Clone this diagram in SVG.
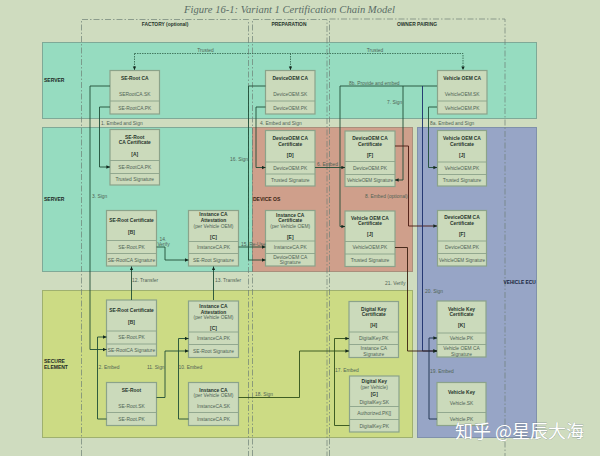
<svg xmlns="http://www.w3.org/2000/svg" width="600" height="456" viewBox="0 0 600 456">
<style>
text{font-family:"Liberation Sans",Arial,sans-serif;font-size:4.900px;fill:#4f6355}
.t{text-anchor:middle}
.b{font-weight:bold;fill:#26342b}
.k{font-weight:bold;fill:#1e2a26;font-size:5px}
.n rect{fill:#cbdabb;stroke:#8ba38a;stroke-width:1.2}
.n line{stroke:#8ba38a;stroke-width:.9}
.c{fill:none;stroke:#1f4d37;stroke-width:.9;marker-end:url(#a)}
.d{fill:none;stroke:#6d8075;stroke-width:.7;stroke-dasharray:6 2 1.500 2}
</style>
<defs>
<marker id="a" markerUnits="userSpaceOnUse" markerWidth="4" markerHeight="4" refX="3.600" refY="1.700" orient="auto"><path d="M0 0L3.600 1.700L0 3.400Z" fill="#14291f"/></marker>
</defs>
<rect width="600" height="456" fill="#cfdcbf"/>
<text x="289.500" y="13" class="t" style="font-family:'Liberation Serif',serif;font-style:italic;font-size:10.600px;fill:#5a6c66">Figure 16-1: Variant 1 Certification Chain Model</text>
<g id="panels" stroke-width="1">
<rect x="42.500" y="42.500" width="494" height="76" fill="#96dcc0" stroke="#7fa997"/>
<rect x="42.500" y="127.500" width="210" height="144" fill="#96dcc0" stroke="#7fa997"/>
<rect x="252.500" y="127.500" width="160" height="144" fill="#cf9f8b" stroke="#a98f7c"/>
<rect x="417.500" y="127.500" width="119" height="310" fill="#97a5c6" stroke="#8091ab"/>
<rect x="42.500" y="290.500" width="370" height="147" fill="#ccdb84" stroke="#9fb06f"/>
</g>
<g id="phases">
<path class="d" d="M81.500 456V19.500H248.500V456"/>
<path class="d" d="M252.500 456V19.500H327V456"/>
<path class="d" d="M329.500 456V19H505V456"/>
<text x="165" y="26" class="t b">FACTORY (optional)</text>
<text x="289" y="26" class="t b">PREPARATION</text>
<text x="417" y="25.500" class="t b">OWNER PAIRING</text>
<text x="44" y="82" class="k">SERVER</text>
<text x="44" y="201" class="k">SERVER</text>
<text x="253" y="201" style="fill:#3a1f14" class="k">DEVICE OS</text>
<text x="503.500" y="284" style="fill:#15233b;font-size:4.800px" class="k">VEHICLE ECU</text>
<text x="44" y="363" class="k">SECURE</text>
<text x="44" y="369" class="k">ELEMENT</text>
</g>
<g id="node-se-root-ca" class="n"><rect x="110" y="70.500" width="49.500" height="43.500"/><line x1="110" y1="101" x2="159.500" y2="101"/>
<text x="134.750" y="80" class="t b">SE-Root CA</text><text x="134.750" y="96" class="t">SERootCA.SK</text><text x="134.750" y="109.500" class="t">SE-RootCA.PK</text></g>
<g id="node-se-root-ca-cert" class="n"><rect x="110" y="129.500" width="49.500" height="55.500"/><line x1="110" y1="160.500" x2="159.500" y2="160.500"/><line x1="110" y1="173.500" x2="159.500" y2="173.500"/>
<text x="134.750" y="138.500" class="t b">SE-Root</text><text x="134.750" y="144" class="t b">CA Certificate</text><text x="134.750" y="155.500" class="t b">[A]</text><text x="134.750" y="168.500" class="t">SE-RootCA.PK</text><text x="134.750" y="181" class="t">Trusted Signature</text></g>
<g id="node-se-root-cert-server" class="n"><rect x="106.500" y="210.500" width="50" height="55.500"/><line x1="106.500" y1="240.500" x2="156.500" y2="240.500"/><line x1="106.500" y1="253.500" x2="156.500" y2="253.500"/>
<text x="131.500" y="222" class="t b">SE-Root Certificate</text><text x="131.500" y="233.500" class="t b">[B]</text><text x="131.500" y="248.500" class="t">SE-Root.PK</text><text x="131.500" y="261.500" class="t">SE-RootCA Signature</text></g>
<g id="node-instance-att-server" class="n"><rect x="188.500" y="210.500" width="50" height="55.500"/><line x1="188.500" y1="241.500" x2="238.500" y2="241.500"/><line x1="188.500" y1="253.500" x2="238.500" y2="253.500"/>
<text x="213.500" y="216" class="t b">Instance CA</text><text x="213.500" y="222" class="t b">Attestation</text><text x="213.500" y="228" class="t">(per Vehicle OEM)</text><text x="213.500" y="239" class="t b">[C]</text><text x="213.500" y="249" class="t">InstanceCA.PK</text><text x="213.500" y="261.500" class="t">SE-Root Signature</text></g>
<g id="node-deviceoem-ca" class="n"><rect x="265.500" y="70.500" width="49.500" height="43.500"/><line x1="265.500" y1="101" x2="315" y2="101"/>
<text x="290.250" y="80" class="t b">DeviceOEM CA</text><text x="290.250" y="96" class="t">DeviceOEM.SK</text><text x="290.250" y="109.500" class="t">DeviceOEM.PK</text></g>
<g id="node-deviceoem-cert-d" class="n"><rect x="265.500" y="130.500" width="49.500" height="55.500"/><line x1="265.500" y1="162" x2="315" y2="162"/><line x1="265.500" y1="174" x2="315" y2="174"/>
<text x="290.250" y="139.500" class="t b">DeviceOEM CA</text><text x="290.250" y="145.500" class="t b">Certificate</text><text x="290.250" y="156.500" class="t b">[D]</text><text x="290.250" y="169.500" class="t">DeviceOEM.PK</text><text x="290.250" y="181.500" class="t">Trusted Signature</text></g>
<g id="node-instance-cert-e" class="n"><rect x="265.500" y="210.500" width="49.500" height="55.500"/><line x1="265.500" y1="241" x2="315" y2="241"/><line x1="265.500" y1="253.500" x2="315" y2="253.500"/>
<text x="290.250" y="216.500" class="t b">Instance CA</text><text x="290.250" y="222" class="t b">Certificate</text><text x="290.250" y="228" class="t">(per Vehicle OEM)</text><text x="290.250" y="239" class="t b">[E]</text><text x="290.250" y="249" class="t">InstanceCA.PK</text><text x="290.250" y="258.500" class="t">DeviceOEM CA</text><text x="290.250" y="264" class="t">Signature</text></g>
<g id="node-deviceoem-cert-f" class="n"><rect x="345" y="131" width="50" height="55.500"/><line x1="345" y1="161.500" x2="395" y2="161.500"/><line x1="345" y1="174.500" x2="395" y2="174.500"/>
<text x="370" y="139.500" class="t b">DeviceOEM CA</text><text x="370" y="145.500" class="t b">Certificate</text><text x="370" y="156.500" class="t b">[F]</text><text x="370" y="169.500" class="t">DeviceOEM.PK</text><text x="370" y="182" class="t" style="font-size:4.600px">VehicleOEM Signature</text></g>
<g id="node-vehicleoem-cert-j-os" class="n"><rect x="345" y="211" width="50" height="55.500"/><line x1="345" y1="241.500" x2="395" y2="241.500"/><line x1="345" y1="254" x2="395" y2="254"/>
<text x="370" y="219.500" class="t b">Vehicle OEM CA</text><text x="370" y="225" class="t b">Certificate</text><text x="370" y="236" class="t b">[J]</text><text x="370" y="249" class="t">VehicleOEM.PK</text><text x="370" y="262" class="t">Trusted Signature</text></g>
<g id="node-vehicleoem-ca" class="n"><rect x="437.500" y="70.500" width="49.500" height="43.500"/><line x1="437.500" y1="101" x2="487" y2="101"/>
<text x="462.250" y="80" class="t b">Vehicle OEM CA</text><text x="462.250" y="96" class="t">VehicleOEM.SK</text><text x="462.250" y="109.500" class="t">VehicleOEM.PK</text></g>
<g id="node-vehicleoem-cert-j" class="n"><rect x="437.500" y="130.500" width="49" height="55.500"/><line x1="437.500" y1="162" x2="486.500" y2="162"/><line x1="437.500" y1="174.500" x2="486.500" y2="174.500"/>
<text x="462" y="139.500" class="t b">Vehicle OEM CA</text><text x="462" y="145.500" class="t b">Certificate</text><text x="462" y="156.500" class="t b">[J]</text><text x="462" y="169.500" class="t">VehicleOEM.PK</text><text x="462" y="182" class="t">Trusted Signature</text></g>
<g id="node-deviceoem-cert-f-ecu" class="n"><rect x="437.500" y="210.500" width="49" height="55.500"/><line x1="437.500" y1="241" x2="486.500" y2="241"/><line x1="437.500" y1="253.500" x2="486.500" y2="253.500"/>
<text x="462" y="219" class="t b">DeviceOEM CA</text><text x="462" y="225" class="t b">Certificate</text><text x="462" y="236" class="t b">[F]</text><text x="462" y="249" class="t">DeviceOEM.PK</text><text x="462" y="261.500" class="t" style="font-size:4.600px">VehicleOEM Signature</text></g>
<g id="node-se-root-cert-se" class="n"><rect x="106.500" y="300" width="50" height="56"/><line x1="106.500" y1="331" x2="156.500" y2="331"/><line x1="106.500" y1="344" x2="156.500" y2="344"/>
<text x="131.500" y="312" class="t b">SE-Root Certificate</text><text x="131.500" y="323.500" class="t b">[B]</text><text x="131.500" y="339" class="t">SE-Root.PK</text><text x="131.500" y="351.500" class="t">SE-RootCA Signature</text></g>
<g id="node-instance-att-se" class="n"><rect x="188.500" y="301" width="50" height="56.500"/><line x1="188.500" y1="332" x2="238.500" y2="332"/><line x1="188.500" y1="344.500" x2="238.500" y2="344.500"/>
<text x="213.500" y="308" class="t b">Instance CA</text><text x="213.500" y="313.500" class="t b">Attestation</text><text x="213.500" y="319" class="t">(per Vehicle OEM)</text><text x="213.500" y="330" class="t b">[C]</text><text x="213.500" y="340" class="t">InstanceCA.PK</text><text x="213.500" y="353" class="t">SE-Root Signature</text></g>
<g id="node-se-root" class="n"><rect x="106.500" y="382.500" width="50" height="43"/><line x1="106.500" y1="412.500" x2="156.500" y2="412.500"/>
<text x="131.500" y="391.500" class="t b">SE-Root</text><text x="131.500" y="407.500" class="t">SE-Root.SK</text><text x="131.500" y="421" class="t">SE-Root.PK</text></g>
<g id="node-instance-ca" class="n"><rect x="188.500" y="382.500" width="50" height="43"/><line x1="188.500" y1="412.500" x2="238.500" y2="412.500"/>
<text x="213.500" y="391.500" class="t b">Instance CA</text><text x="213.500" y="397" class="t">(per Vehicle OEM)</text><text x="213.500" y="407.500" class="t">InstanceCA.SK</text><text x="213.500" y="421" class="t">InstanceCA.PK</text></g>
<g id="node-digital-key-cert" class="n"><rect x="349" y="301.500" width="49.500" height="56"/><line x1="349" y1="332" x2="398.500" y2="332"/><line x1="349" y1="344.500" x2="398.500" y2="344.500"/>
<text x="373.750" y="310.500" class="t b">Digital Key</text><text x="373.750" y="316" class="t b">Certificate</text><text x="373.750" y="327" class="t b">[H]</text><text x="373.750" y="340" class="t">DigitalKey.PK</text><text x="373.750" y="350" class="t">Instance CA</text><text x="373.750" y="355.500" class="t">Signature</text></g>
<g id="node-digital-key" class="n"><rect x="349.500" y="376" width="49.500" height="56"/><line x1="349.500" y1="406.500" x2="399" y2="406.500"/><line x1="349.500" y1="419.500" x2="399" y2="419.500"/>
<text x="374.250" y="383" class="t b">Digital Key</text><text x="374.250" y="388.500" class="t">(per Vehicle)</text><text x="374.250" y="396" class="t b">[G]</text><text x="374.250" y="403.500" class="t">DigitalKey.SK</text><text x="374.250" y="415" class="t">Authorized.PK[]</text><text x="374.250" y="427.500" class="t">DigitalKey.PK</text></g>
<g id="node-vehicle-key-cert" class="n"><rect x="437" y="301" width="49" height="56"/><line x1="437" y1="333" x2="486" y2="333"/><line x1="437" y1="344.500" x2="486" y2="344.500"/>
<text x="461.500" y="310.500" class="t b">Vehicle Key</text><text x="461.500" y="316" class="t b">Certificate</text><text x="461.500" y="327" class="t b">[K]</text><text x="461.500" y="340" class="t">Vehicle.PK</text><text x="461.500" y="350" class="t">Vehicle OEM CA</text><text x="461.500" y="355.500" class="t">Signature</text></g>
<g id="node-vehicle-key" class="n"><rect x="437" y="382.500" width="49" height="43"/><line x1="437" y1="412.500" x2="486" y2="412.500"/>
<text x="461.500" y="394" class="t b">Vehicle Key</text><text x="461.500" y="405" class="t">Vehicle.SK</text><text x="461.500" y="420.500" class="t">Vehicle.PK</text></g>
<g id="connectors">
<path class="c" style="stroke-dasharray:1.500 1;stroke-width:.7" d="M134.500 53.500H463V70"/>
<path class="c" style="stroke-dasharray:1.500 1;stroke-width:.7" d="M134.500 53.500V70"/>
<path class="c" style="stroke-dasharray:1.500 1;stroke-width:.7" d="M290.500 53.500V70"/>
<path class="c" d="M110 107H99.500V167H110"/>
<path class="c" d="M110 86H90V349.500H106.500"/>
<path class="c" d="M106.500 419H97.500V337H106.500"/>
<path class="c" d="M156.500 397.500H165V351H188.500"/>
<path class="c" d="M188.500 419H178.500V338.500H188.500"/>
<path class="c" d="M131.500 300V266.500"/>
<path class="c" d="M213.500 300V266.500"/>
<path class="c" d="M156.500 247H165V260H188.500"/>
<path class="c" d="M238.500 247H265.500"/>
<path class="c" d="M265.500 86H248.500V260H265.500"/>
<path class="c" d="M265.500 107H256V167.500H265.500"/>
<path class="c" d="M315 167.500H345"/>
<path class="c" d="M437 86H340V226.500H345"/>
<path class="c" d="M403 86V180H395"/>
<path class="c" style="stroke:#4a1810" d="M395 146H408.500V226H437"/>
<path class="c" style="stroke:#1a2d6a" d="M422.500 86V351H437"/>
<path class="c" d="M437 107H428.500V167.500H437"/>
<path class="c" style="stroke:#3a1e10" d="M395 247.500H407.500V351H437"/>
<path class="c" style="stroke:#1a2d4a" d="M437 419H429V338H437"/>
<path class="c" style="stroke:#2f4f1a" d="M349.500 425.500H334.500V338.500H349"/>
<path class="c" style="stroke:#2f4f1a" d="M238.500 397.500H299.500V351H349"/>
</g>
<g id="labels">
<text x="205.500" y="52" class="t">Trusted</text>
<text x="375" y="52" class="t">Trusted</text>
<text x="101" y="124.500">1. Embed and Sign</text>
<text x="92" y="197.500">3. Sign</text>
<text x="98.500" y="369">2. Embed</text>
<text x="147" y="369">11. Sign</text>
<text x="178.500" y="369">10. Embed</text>
<text x="132" y="282">12. Transfer</text>
<text x="215" y="282">13. Transfer</text>
<text x="163" y="240.500" class="t">14.</text>
<text x="163.500" y="246" class="t">Verify</text>
<text x="241" y="246">15. Re-Use</text>
<text x="230" y="161">16. Sign</text>
<text x="260" y="124.500">4. Embed and Sign</text>
<text x="317" y="166">6. Embed</text>
<text x="349" y="85">8b. Provide and embed</text>
<text x="387" y="103.500">7. Sign</text>
<text x="365" y="197.500">8. Embed (optional)</text>
<text x="430" y="124.500">8a. Embed and Sign</text>
<text x="425" y="293">20. Sign</text>
<text x="385" y="284.500">21. Verify</text>
<text x="430" y="373">19. Embed</text>
<text x="335" y="372">17. Embed</text>
<text x="255" y="396">18. Sign</text>
</g>
<text x="455" y="438" style="font-family:'Noto Sans CJK SC',sans-serif;font-size:18px;fill:#fff;stroke:#6b7a80;stroke-width:.3;paint-order:stroke">知乎 @星辰大海</text>
</svg>
